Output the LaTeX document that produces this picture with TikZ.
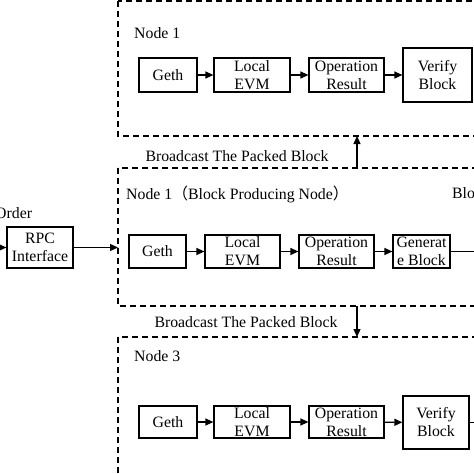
\documentclass[tikz,border=0pt]{standalone}
\usepackage{fontspec}
\setmainfont{Liberation Serif}
\newfontfamily\cjk{Noto Sans CJK SC}
\usetikzlibrary{arrows.meta}
\begin{document}
\begin{tikzpicture}[x=1pt,y=-1pt,
  every node/.style={font=\fontsize{15.8}{18}\selectfont},
  blk/.style={draw, line width=1.2pt, inner sep=0pt, align=center, minimum height=33pt},
  frame/.style={draw, line width=1.4pt, dash pattern=on 6pt off 4pt},
  arr/.style={line width=1.2pt, -{Triangle[length=8pt,width=7pt]}},
  lbl/.style={inner sep=0pt, anchor=west}]
\useasboundingbox (0,0) rectangle (474,474);
% frames
\draw[frame] (118,1) rectangle (495,136);
\draw[frame] (118,168) rectangle (495,306);
\draw[frame] (118,337) rectangle (495,495);
\coordinate (topB) at (357,136);
\coordinate (midT) at (357,168);
\coordinate (midB) at (357,306);
\coordinate (botT) at (357,337);
\draw[arr] (midT) -- (topB);
\draw[arr] (midB) -- (botT);
\node (bc1) at (237,156) {Broadcast The Packed Block};
\node (bc2) at (246,322) {Broadcast The Packed Block};
% top frame
\node[lbl] (n1) at (134,33) {Node 1};
\node[blk, minimum width=58pt, minimum height=34pt] (g1) at (168,75) {Geth};
\node[blk, minimum width=76pt, minimum height=34pt] (l1) at (252,75) {Local\\EVM};
\node[blk, minimum width=75pt, minimum height=34pt] (o1) at (346.5,75) {Operation\\Result};
\node[blk, minimum width=69pt, minimum height=54pt] (v1) at (437.5,75) {Verify\\Block};
\draw[arr] (g1) -- (l1);
\draw[arr] (l1) -- (o1);
\draw[arr] (o1) -- (v1);
% middle frame
\node[lbl] (n2) at (126,194) {Node 1{\cjk （}Block Producing Node{\cjk ）}};
\node[blk, minimum width=57pt] (g2) at (157.5,251.5) {Geth};
\node[blk, minimum width=75pt] (l2) at (242.5,251.5) {Local\\EVM};
\node[blk, minimum width=75pt] (o2) at (336.5,251.5) {Operation\\Result};
\node[blk, minimum width=57pt] (ge) at (421.5,251.5) {Generat\\e Block};
\draw[arr] (g2) -- (l2);
\draw[arr] (l2) -- (o2);
\draw[arr] (o2) -- (ge);
\coordinate (geOut) at (480,251.5);
\draw[line width=1.2pt] (ge) -- (geOut);
\node[lbl] (blo) at (452,193) {Block};
% RPC
\node[blk, minimum width=66pt, minimum height=41pt] (rpc) at (40,247.5) {RPC\\Interface};
\coordinate (inL) at (-10,247.5);
\coordinate (midL) at (118,247.5);
\draw[arr] (inL) -- (rpc);
\draw[arr] (rpc) -- (midL);
\node[lbl] (ord) at (-5,213) {Order};
% bottom frame
\node[lbl] (n3) at (134,356) {Node 3};
\node[blk, minimum width=58pt, minimum height=32pt] (g3) at (168,422) {Geth};
\node[blk, minimum width=76pt, minimum height=32pt] (l3) at (252,422) {Local\\EVM};
\node[blk, minimum width=75pt, minimum height=32pt] (o3) at (346.5,422) {Operation\\Result};
\node[blk, minimum width=66pt, minimum height=53pt] (v3) at (436,422.5) {Verify\\Block};
\draw[arr] (g3) -- (l3);
\draw[arr] (l3) -- (o3);
\draw[arr] (o3) -- (v3);
\coordinate (vOut) at (480,422.5);
\draw[line width=1.2pt] (v3) -- (vOut);
\end{tikzpicture}
\end{document}
